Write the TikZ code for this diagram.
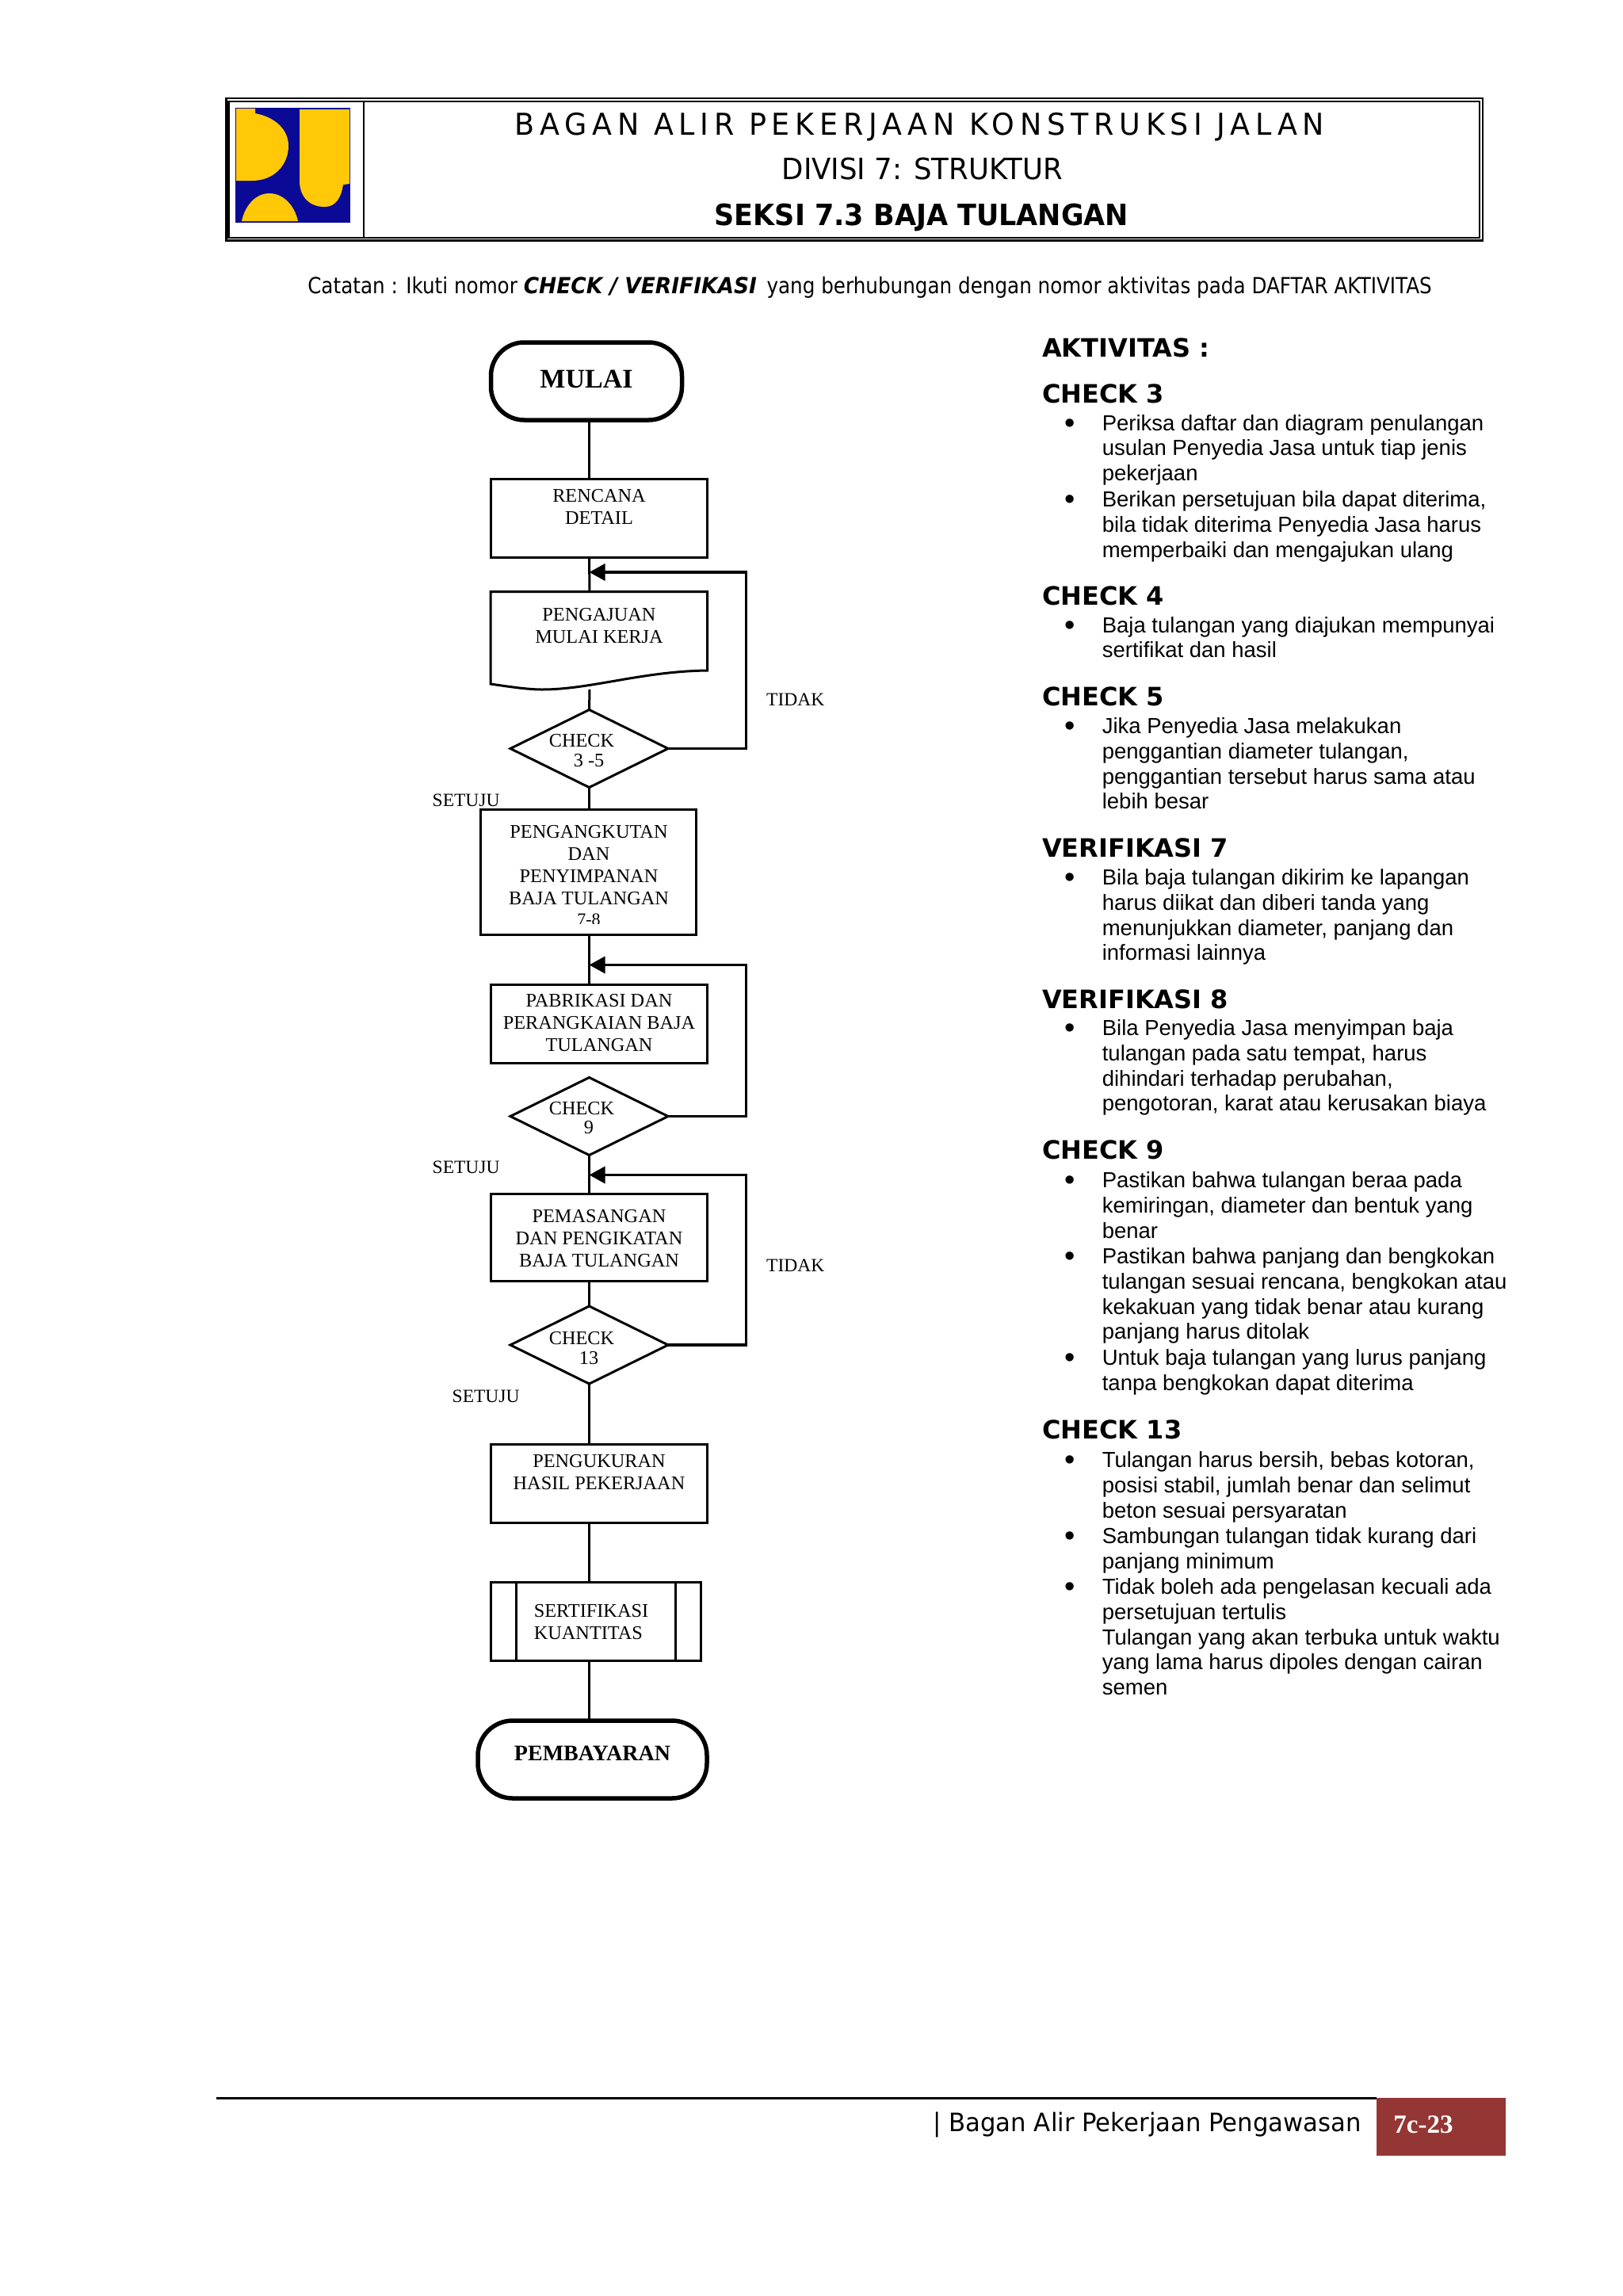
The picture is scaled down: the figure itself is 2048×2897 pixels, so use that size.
\documentclass[tikz,border=0pt]{standalone}
\usepackage{fontspec}
\usetikzlibrary{shapes.geometric,arrows.meta}
\setmainfont{Liberation Sans}
\newfontfamily\tah{DejaVu Sans}[FakeStretch=0.88]
\newfontfamily\tahb{DejaVu Sans}
\newfontfamily\tahw{DejaVu Sans}[FakeStretch=0.96]
\newfontfamily\tahm{DejaVu Sans}[FakeStretch=0.945]
\newfontfamily\tahsp{DejaVu Sans}[FakeStretch=0.96,LetterSpace=17.8]
\newfontfamily\tim{Liberation Serif}
\newfontfamily\ari{Liberation Sans}
\definecolor{logoblue}{HTML}{0A0A96}
\definecolor{logoyellow}{HTML}{FFC908}
\definecolor{pagered}{HTML}{943634}
\tikzset{
  x=1pt,y=-1pt,
  flowline/.style={line width=3pt,draw=black},
  flowbox/.style={rectangle,draw=black,fill=white,line width=3pt,inner sep=0pt,outer sep=0pt},
  pill/.style={rectangle,draw=black,fill=white,line width=5.5pt,inner sep=0pt,outer sep=0pt,rounded corners=42pt},
  decis/.style={diamond,draw=black,fill=white,line width=3pt,inner sep=0pt,outer sep=0pt,aspect=2},
  ftext/.style={inner sep=0pt,align=center,font=\tim\fontsize{24.3}{28}\selectfont},
  blbl/.style={inner sep=0pt,font=\tim\bfseries\fontsize{34}{40}\selectfont},
  sidelbl/.style={inner sep=0pt,anchor=west,font=\tim\fontsize{23.5}{28}\selectfont},
  head/.style={inner sep=0pt,anchor=west,font=\tahb\bfseries\fontsize{32}{38}\selectfont},
  para/.style={inner sep=0pt,anchor=north west,align=left,font=\ari\fontsize{27.5}{31.7}\selectfont},
  bull/.style={inner sep=0pt,font=\ari\fontsize{38}{40}\selectfont},
  htext/.style={inner sep=0pt,font=\tahw\fontsize{37}{44}\selectfont},
}
\newcommand{\act}[3]{%
  \node[bull] (#1b) at (1350,{#2+3}) {•};
  \node[para] (#1) at (1390.6,{#2-11.5}) {#3};
}
\begin{document}
\begin{tikzpicture}
\useasboundingbox (0,0) rectangle (2048,2897);
\fill[white] (0,0) rectangle (2048,2897);

% header frame
\draw[line width=2.5pt] (285.5,124) rectangle (1871,303.5);
\draw[line width=2.5pt] (288.5,128) rectangle (1867,300);
\draw[line width=2pt] (459,128) -- (459,300);

% logo
\fill[logoblue] (296.5,136) rectangle (442,281);
\fill[logoyellow] (298,137) -- (322,137) -- (322,143)
   .. controls (348,148) and (364,164) .. (364,184)
   .. controls (364,208) and (346,228) .. (318,228) -- (298,228) -- cycle;
\fill[logoyellow] (378,138) -- (441,138) -- (441,232) -- (433,233)
   .. controls (431,248) and (424,261) .. (410,261)
   .. controls (390,261) and (378,248) .. (378,228) -- cycle;
\fill[logoyellow] (305,279) .. controls (309,260) and (322,244) .. (340,244)
   .. controls (358,244) and (372,260) .. (376,279) -- cycle;

\node[inner sep=0pt,font=\tahsp\fontsize{38}{44}\selectfont] (t1) at (1160.5,160.5) {BAGAN ALIR PEKERJAAN KONSTRUKSI JALAN};
\node[htext] (t2) at (1164,213.5) {DIVISI 7: STRUKTUR};
\node[htext,font=\tahm\bfseries\fontsize{37}{44}\selectfont] (t3) at (1163,274) {SEKSI 7.3 BAJA TULANGAN};
\node[inner sep=0pt,font=\tah\fontsize{28}{32}\selectfont] (cat) at (1097.5,363)
  {Catatan : Ikuti nomor {\tahm\bfseries\itshape CHECK / VERIFIKASI}\, yang berhubungan dengan nomor aktivitas pada DAFTAR AKTIVITAS};

% flow shapes
\node[pill,minimum width=241pt,minimum height=98pt] (mulai) at (740,481) {};
\node[flowbox,minimum width=273.5pt,minimum height=99pt] (rencana) at (755.75,654) {};
\draw[flowline,fill=white] (619,746.5) -- (892.5,746.5) -- (892.5,846)
   .. controls (810,847) and (745,870) .. (684,870)
   .. controls (665,870) and (640,866) .. (619,863) -- cycle;
\coordinate (docbot) at (744,870);
\coordinate (doctop) at (744,746.5);
\node[decis,minimum width=199pt,minimum height=98pt] (d1) at (743.5,944.5) {};
\node[flowbox,minimum width=272.5pt,minimum height=158pt] (angkut) at (742.5,1100.5) {};
\node[flowbox,minimum width=273.5pt,minimum height=99pt] (pabrik) at (755.75,1291.5) {};
\node[decis,minimum width=199pt,minimum height=98pt] (d2) at (743.5,1408.5) {};
\node[flowbox,minimum width=273.5pt,minimum height=110pt] (pasang) at (755.75,1561.5) {};
\node[decis,minimum width=199pt,minimum height=98pt] (d3) at (743.5,1697) {};
\node[flowbox,minimum width=273.5pt,minimum height=99.5pt] (ukur) at (755.75,1872) {};
\node[flowbox,minimum width=265pt,minimum height=99.5pt] (serti) at (751.5,2045.75) {};
\draw[flowline] (651,1996) -- (651,2095.5) (852,1996) -- (852,2095.5);
\node[pill,minimum width=289pt,minimum height=98pt,rounded corners=44pt] (bayar) at (747.5,2220) {};

% connectors
\coordinate (tr) at (743.5,0);
\coordinate (j1) at (743.5,722);
\coordinate (j2) at (743.5,1217.5);
\coordinate (j3) at (743.5,1482.5);
\coordinate (l1) at (941.5,722);
\coordinate (l2) at (941.5,1217.5);
\coordinate (l3) at (941.5,1482.5);
\draw[flowline] (tr |- mulai.south) -- (tr |- rencana.north);
\draw[flowline] (tr |- rencana.south) -- (doctop);
\draw[flowline] (docbot) -- (d1.north);
\draw[flowline] (d1.south) -- (tr |- angkut.north);
\draw[flowline] (tr |- angkut.south) -- (tr |- pabrik.north);
\draw[flowline] (d2.south) -- (tr |- pasang.north);
\draw[flowline] (tr |- pasang.south) -- (d3.north);
\draw[flowline] (d3.south) -- (tr |- ukur.north);
\draw[flowline] (tr |- ukur.south) -- (tr |- serti.north);
\draw[flowline] (tr |- serti.south) -- (tr |- bayar.north);
\draw[flowline,line width=3.5pt,-{Triangle[length=20pt,width=21pt]}] (d1.east) -| (l1) -- (j1);
\draw[flowline,line width=3.5pt,-{Triangle[length=20pt,width=21pt]}] (d2.east) -| (l2) -- (j2);
\draw[flowline,line width=3.5pt,-{Triangle[length=20pt,width=21pt]}] (d3.east) -| (l3) -- (j3);

% flow text
\node[blbl] (tmulai) at (740,478) {MULAI};
\node[ftext] (trenc) at (756,639.5) {RENCANA\\DETAIL};
\node[ftext] (tpeng) at (756,789.5) {PENGAJUAN\\MULAI KERJA};
\node[ftext] (tc1a) at (734,935) {CHECK};
\node[ftext] (tc1b) at (743,960) {3 -5};
\node[ftext] (tangkut) at (743,1092) {PENGANGKUTAN\\DAN\\PENYIMPANAN\\BAJA TULANGAN};
\begin{scope}
\clip (700,1145) rectangle (790,1165.5);
\node[ftext,font=\tim\fontsize{22}{24}\selectfont] (t78) at (743,1160) {7-8};
\end{scope}
\node[ftext] (tpab) at (756,1291) {PABRIKASI DAN\\PERANGKAIAN BAJA\\TULANGAN};
\node[ftext] (tc2a) at (734,1398.5) {CHECK};
\node[ftext] (tc2b) at (743,1423) {9};
\node[ftext] (tpas) at (756,1563) {PEMASANGAN\\DAN PENGIKATAN\\BAJA TULANGAN};
\node[ftext] (tc3a) at (734,1689) {CHECK};
\node[ftext] (tc3b) at (743,1714) {13};
\node[ftext] (tukur) at (756,1858) {PENGUKURAN\\HASIL PEKERJAAN};
\node[ftext,align=left] (tserti) at (746,2046.5) {SERTIFIKASI\\KUANTITAS};
\node[blbl,font=\tim\bfseries\fontsize{28}{34}\selectfont] (tbayar) at (747.5,2212) {PEMBAYARAN};

\node[sidelbl] (s1) at (545.5,1009.5) {SETUJU};
\node[sidelbl] (s2) at (545.5,1472.5) {SETUJU};
\node[sidelbl] (s3) at (570.5,1762) {SETUJU};
\node[sidelbl] (n1) at (967,882.5) {TIDAK};
\node[sidelbl] (n2) at (967,1596.5) {TIDAK};

% right column
\node[head] (h0) at (1315,439) {AKTIVITAS :};
\node[head] (h1) at (1315,496.5) {CHECK 3};
\act{a1}{534.5}{Periksa daftar dan diagram penulangan\\usulan Penyedia Jasa untuk tiap jenis\\pekerjaan}
\act{a2}{631}{Berikan persetujuan bila dapat diterima,\\bila tidak diterima Penyedia Jasa harus\\memperbaiki dan mengajukan ulang}
\node[head] (h2) at (1315,752) {CHECK 4};
\act{a3}{789.5}{Baja tulangan yang diajukan mempunyai\\sertifikat dan hasil}
\node[head] (h3) at (1315,879) {CHECK 5};
\act{a4}{917}{Jika Penyedia Jasa melakukan\\penggantian diameter tulangan,\\penggantian tersebut harus sama atau\\lebih besar}
\node[head] (h4) at (1315,1070) {VERIFIKASI 7};
\act{a5}{1108}{Bila baja tulangan dikirim ke lapangan\\harus diikat dan diberi tanda yang\\menunjukkan diameter, panjang dan\\informasi lainnya}
\node[head] (h5) at (1315,1261) {VERIFIKASI 8};
\act{a6}{1298}{Bila Penyedia Jasa menyimpan baja\\tulangan pada satu tempat, harus\\dihindari terhadap perubahan,\\pengotoran, karat atau kerusakan biaya}
\node[head] (h6) at (1315,1451) {CHECK 9};
\act{a7}{1490}{Pastikan bahwa tulangan beraa pada\\kemiringan, diameter dan bentuk yang\\benar}
\act{a8}{1586}{Pastikan bahwa panjang dan bengkokan\\tulangan sesuai rencana, bengkokan atau\\kekakuan yang tidak benar atau kurang\\panjang harus ditolak}
\act{a9}{1714}{Untuk baja tulangan yang lurus panjang\\tanpa bengkokan dapat diterima}
\node[head] (h7) at (1315,1804) {CHECK 13};
\act{a10}{1843}{Tulangan harus bersih, bebas kotoran,\\posisi stabil, jumlah benar dan selimut\\beton sesuai persyaratan}
\act{a11}{1939}{Sambungan tulangan tidak kurang dari\\panjang minimum}
\act{a12}{2003}{Tidak boleh ada pengelasan kecuali ada\\persetujuan tertulis\\Tulangan yang akan terbuka untuk waktu\\yang lama harus dipoles dengan cairan\\semen}

% footer
\draw[line width=3pt] (273,2647) -- (1737,2647);
\fill[pagered] (1737,2647) rectangle (1900,2720);
\node[inner sep=0pt,anchor=east,font=\tahw\fontsize{32}{38}\selectfont] (foot) at (1718,2681.5) {| Bagan Alir Pekerjaan Pengawasan};
\node[inner sep=0pt,text=white,font=\tim\bfseries\fontsize{33}{38}\selectfont] (pg) at (1796,2681) {7c-23};
\end{tikzpicture}
\end{document}
